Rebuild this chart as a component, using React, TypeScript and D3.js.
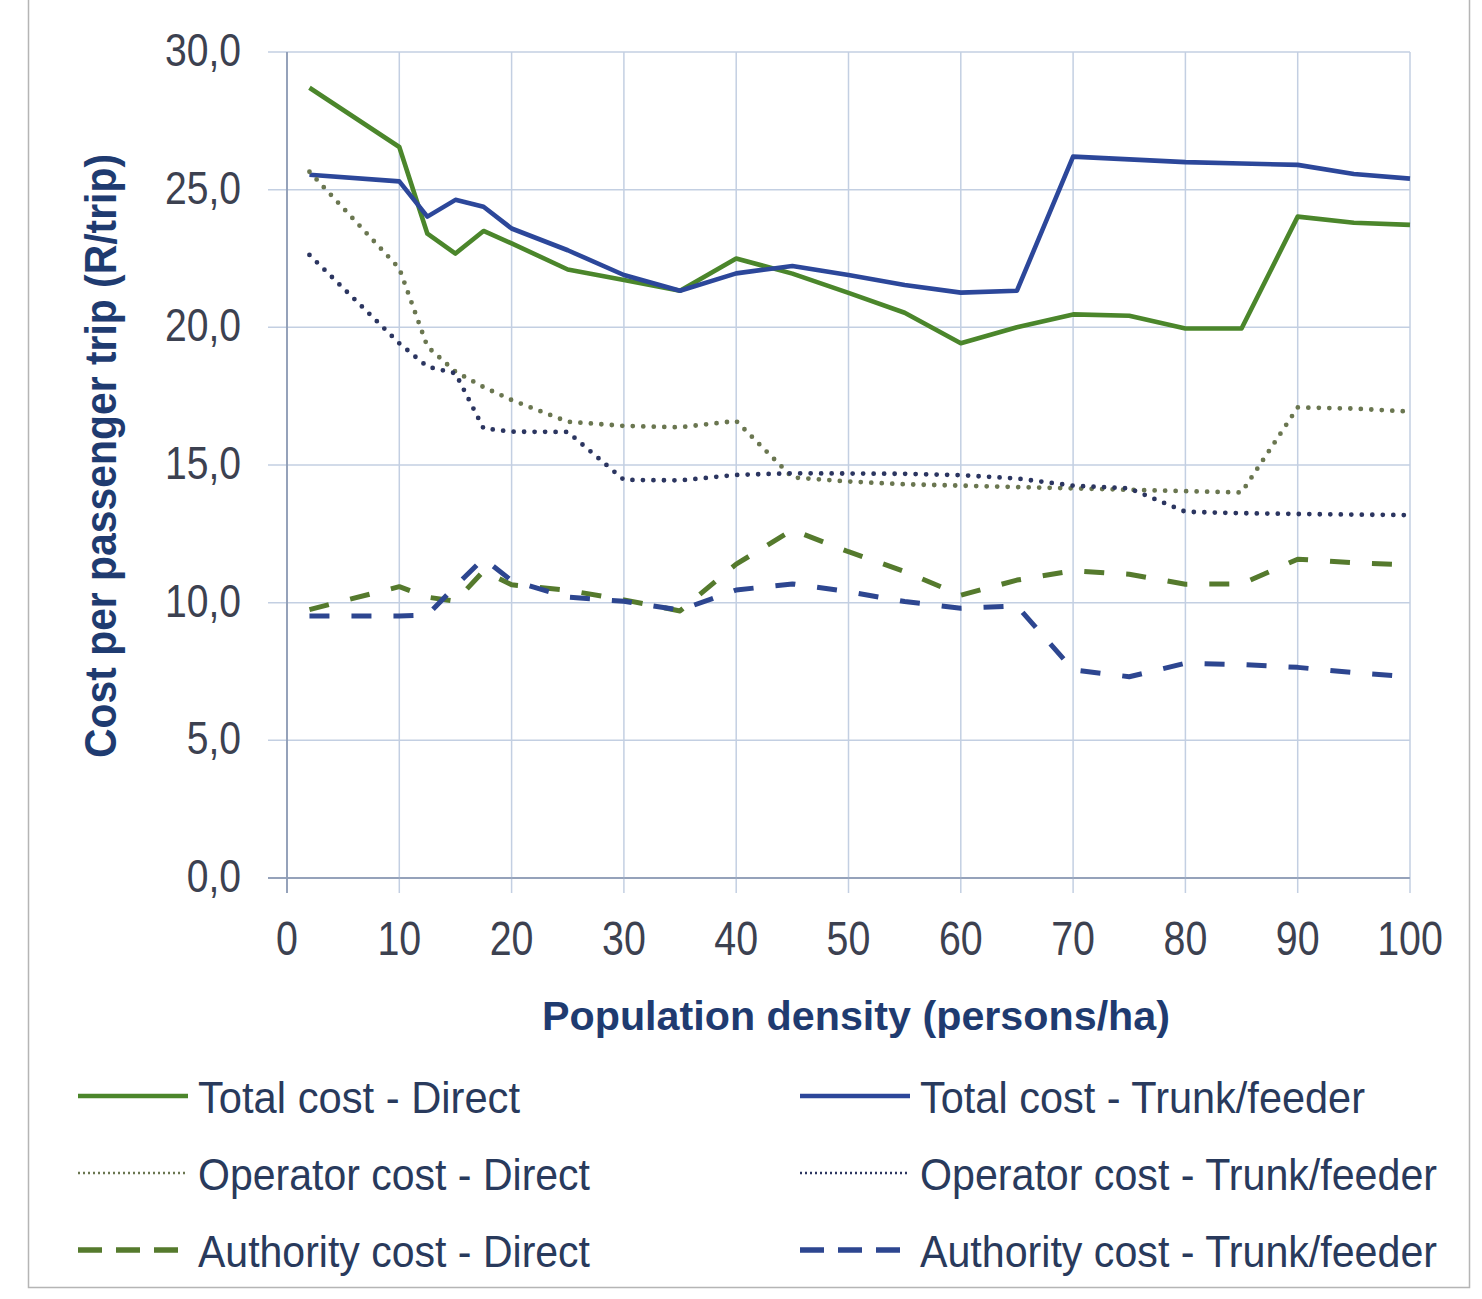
import React from 'react';
import * as d3 from 'd3';

// population density (persons/ha)
const density = [2, 10, 12.5, 15, 17.5, 20, 25, 30, 35, 40, 45, 50, 55, 60, 65, 70, 75, 80, 85, 90, 95, 100];

// cost per passenger trip (R/trip)
const totalDirect = [28.7, 26.55, 23.4, 22.68, 23.5, 23.05, 22.1, 21.72, 21.33, 22.5, 21.95, 21.25, 20.53, 19.42, 20.0, 20.47, 20.42, 19.96, 19.96, 24.02, 23.8, 23.72];
const totalTrunk = [25.54, 25.3, 24.02, 24.63, 24.38, 23.59, 22.8, 21.9, 21.33, 21.96, 22.23, 21.9, 21.54, 21.26, 21.33, 26.2, 26.1, 26.0, 25.95, 25.9, 25.57, 25.4];
const operatorDirect = [25.65, 22.14, 19.3, 18.39, 17.83, 17.36, 16.57, 16.42, 16.37, 16.6, 14.55, 14.4, 14.3, 14.25, 14.2, 14.15, 14.1, 14.05, 14.0, 17.09, 17.05, 16.94];
const operatorTrunk = [22.63, 19.42, 18.57, 18.33, 16.33, 16.21, 16.2, 14.46, 14.44, 14.64, 14.7, 14.69, 14.68, 14.63, 14.51, 14.25, 14.15, 13.3, 13.25, 13.22, 13.2, 13.18];
const authorityDirect = [9.75, 10.58, 10.2, 10.05, 11.15, 10.65, 10.45, 10.1, 9.7, 11.4, 12.64, 11.85, 11.13, 10.27, 10.82, 11.16, 11.03, 10.67, 10.68, 11.58, 11.45, 11.37];
const authorityTrunk = [9.52, 9.52, 9.55, 10.6, 11.6, 10.8, 10.2, 10.05, 9.73, 10.46, 10.68, 10.4, 10.04, 9.8, 9.88, 7.56, 7.31, 7.8, 7.75, 7.65, 7.46, 7.31];

const xTicks = [0, 10, 20, 30, 40, 50, 60, 70, 80, 90, 100];
const yTicks = [0, 5, 10, 15, 20, 25, 30];

const GREEN = '#4b862b';
const BLUE = '#2c479a';

const styles: Record<string, { width: number; dash: string | null; cap: string; legendDash: string | null; legendWidth: number }> = {
  total: { width: 4.6, dash: null, cap: 'butt', legendDash: null, legendWidth: 4.5 },
  operator: { width: 4.8, dash: '0 10.5', cap: 'round', legendDash: '2 3', legendWidth: 2.5 },
  authority: { width: 5, dash: '20 22', cap: 'butt', legendDash: '24 14', legendWidth: 5.5 },
};

const series = [
  { name: 'Total cost - Direct', values: totalDirect, kind: 'total', color: GREEN },
  { name: 'Total cost - Trunk/feeder', values: totalTrunk, kind: 'total', color: BLUE },
  { name: 'Operator cost - Direct', values: operatorDirect, kind: 'operator', color: '#6a7650' },
  { name: 'Operator cost - Trunk/feeder', values: operatorTrunk, kind: 'operator', color: '#2b3560' },
  { name: 'Authority cost - Direct', values: authorityDirect, kind: 'authority', color: '#557a2d' },
  { name: 'Authority cost - Trunk/feeder', values: authorityTrunk, kind: 'authority', color: '#2d4690' },
];

// legend text widths measured on the reference
const legendWidths = [322, 445, 392, 517, 392, 517];

const x = d3.scaleLinear().domain([0, 100]).range([287, 1410]);
const y = d3.scaleLinear().domain([0, 30]).range([878, 52]);

const fmt = (v: number) => v.toFixed(1).replace('.', ',');

export default function App() {
  const line = d3.line<number>()
    .x((_, i) => x(density[i]))
    .y(d => y(d));

  const font = '"Liberation Sans", Arial, sans-serif';
  const gridColor = '#c3cfe2';
  const axisColor = '#8e9cb6';

  return (
    <svg width={1482} height={1299} style={{ position: 'absolute', left: 0, top: 0, background: '#fff' }} fontFamily={font}>
      <rect width={1482} height={1299} fill="#fff" />
      {/* outer frame */}
      <path d="M28.5,0 V1287.5 H1469.5 V0" fill="none" stroke="#b5b5b5" strokeWidth={1.5} />

      {/* horizontal grid + y ticks */}
      {yTicks.map(t => (
        <g key={'y' + t}>
          <line x1={268} x2={x(100)} y1={y(t)} y2={y(t)} stroke={t === 0 ? axisColor : gridColor} strokeWidth={1.5} />
          <g transform={`translate(241,${y(t) + 14}) scale(0.85,1)`}>
            <text textAnchor="end" fontSize={46} fill="#3c4150">{fmt(t)}</text>
          </g>
        </g>
      ))}

      {/* vertical grid + x ticks */}
      {xTicks.map(t => (
        <g key={'x' + t}>
          <line x1={x(t)} x2={x(t)} y1={y(30)} y2={893} stroke={t === 0 ? axisColor : gridColor} strokeWidth={1.5} />
          <g transform={`translate(${x(t)},955) scale(0.82,1)`}>
            <text textAnchor="middle" fontSize={48} fill="#3c4150">{t}</text>
          </g>
        </g>
      ))}
      <line x1={x(0)} x2={x(0)} y1={y(30)} y2={893} stroke={axisColor} strokeWidth={1.5} />
      <line x1={268} x2={x(100)} y1={y(0)} y2={y(0)} stroke={axisColor} strokeWidth={1.5} />

      {/* series */}
      {series.map(s => {
        const st = styles[s.kind];
        return (
          <path
            key={s.name}
            d={line(s.values) || ''}
            fill="none"
            stroke={s.color}
            strokeWidth={st.width}
            strokeDasharray={st.dash || undefined}
            strokeLinecap={st.cap as any}
            strokeLinejoin="round"
          />
        );
      })}

      {/* axis titles */}
      <text x={856} y={1030} textAnchor="middle" fontSize={40} fontWeight="bold" fill="#1f3b70"
        textLength={628} lengthAdjust="spacingAndGlyphs">Population density (persons/ha)</text>
      <text transform="translate(116,456) rotate(-90)" textAnchor="middle" fontSize={44} fontWeight="bold" fill="#1f3b70"
        textLength={604} lengthAdjust="spacingAndGlyphs">Cost per passenger trip (R/trip)</text>

      {/* legend */}
      {series.map((s, i) => {
        const st = styles[s.kind];
        const col = i % 2;
        const row = Math.floor(i / 2);
        const lx = col === 0 ? 78 : 800;
        const ly = 1096 + row * 77;
        return (
          <g key={'lg' + s.name}>
            <line x1={lx} x2={lx + 110} y1={ly} y2={ly} stroke={s.color} strokeWidth={st.legendWidth}
              strokeDasharray={st.legendDash || undefined} />
            <text x={lx + 120} y={ly + 17} fontSize={44} fill="#293a5c"
              textLength={legendWidths[i]} lengthAdjust="spacingAndGlyphs">{s.name}</text>
          </g>
        );
      })}
    </svg>
  );
}
